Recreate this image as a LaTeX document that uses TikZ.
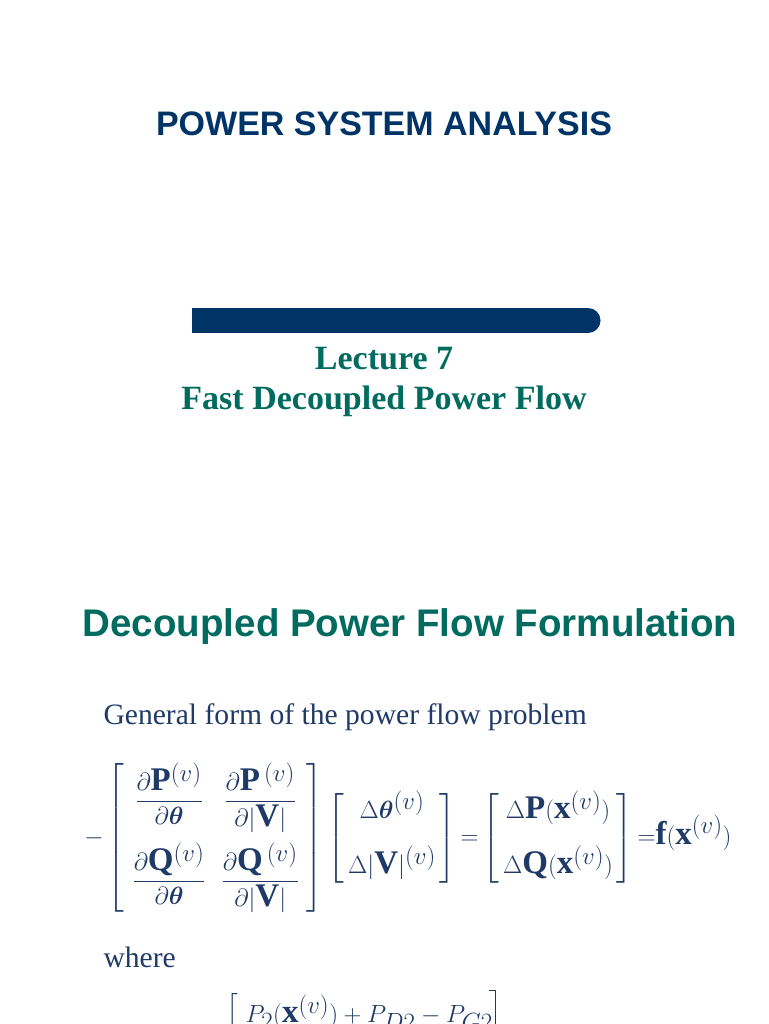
\documentclass[tikz,border=0pt]{standalone}
\usepackage{amsmath,bm}
\usepackage{fontspec}
\setmainfont{Liberation Serif}
\newfontfamily\hsans{Liberation Sans}
\definecolor{navy}{HTML}{003366}
\definecolor{teal2}{HTML}{006B5E}
\definecolor{eqc}{HTML}{1F3A66}
\begin{document}
\begin{tikzpicture}[x=1pt,y=-1pt,
  ttl/.style={font=\hsans\bfseries\fontsize{34}{38}\selectfont,text=navy},
  lec/.style={font=\bfseries\fontsize{34}{38}\selectfont,text=teal2},
  head/.style={font=\hsans\bfseries\fontsize{38.5}{42}\selectfont,text=teal2},
  body/.style={font=\fontsize{29.6}{34}\selectfont,text=eqc},
  eqs/.style={font=\fontsize{33}{38}\selectfont,text=eqc,inner sep=0pt}]
\useasboundingbox (0,0) rectangle (768,1024);
\clip (0,0) rectangle (768,1024);
\node[ttl] (t) at (384,124) {POWER SYSTEM ANALYSIS};
\fill[navy] (192,308) rectangle (588,333);
\fill[navy] (588,320.5) circle[radius=12.5];
\node[lec] (l1) at (384,359) {Lecture 7};
\node[lec] (l2) at (384,401) {Fast Decoupled Power Flow};
\node[head] (h) at (410,627) {Decoupled Power Flow Formulation};
\node[body,anchor=west] (g) at (100,717) {General form of the power flow problem};
\node[eqs] (eq) at (408,838) {$\displaystyle
-\left[\arraycolsep=8pt\begin{array}{cc}
\dfrac{\partial\mathbf{P}^{(v)}}{\partial\bm{\theta}} & \dfrac{\partial\mathbf{P}^{\,(v)}}{\partial|\mathbf{V}|}\\[24pt]
\dfrac{\partial\mathbf{Q}^{(v)}}{\partial\bm{\theta}} & \dfrac{\partial\mathbf{Q}^{\,(v)}}{\partial|\mathbf{V}|}
\end{array}\right]
\left[\arraycolsep=4pt\begin{array}{c}\Delta\bm{\theta}^{(v)}\\[16pt] \Delta|\mathbf{V}|^{(v)}\end{array}\right]
{=}\left[\arraycolsep=4pt\begin{array}{c}\Delta\mathbf{P}(\mathbf{x}^{(v)})\\[16pt] \Delta\mathbf{Q}(\mathbf{x}^{(v)})\end{array}\right]
{=}\mathbf{f}(\mathbf{x}^{(v)})$};
\node[body,anchor=west] (w) at (100,957) {where};
\node[eqs] (p) at (366,1016) {$\left[\;P_2(\mathbf{x}^{(v)})+P_{D2}-P_{G2}\;\right.\vphantom{\Big|}$};
\draw[eqc,line width=0.8pt] (495,990) -- (495,1024) (495,990) -- (489,990);
\end{tikzpicture}
\end{document}
